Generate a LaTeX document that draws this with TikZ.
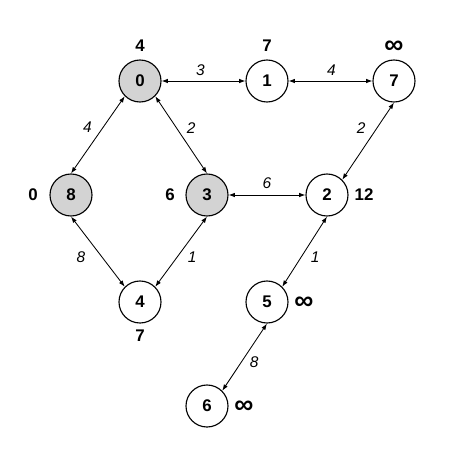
\documentclass[tikz,border=0pt]{standalone}
\usepackage{fontspec}
\setmainfont{Liberation Sans}
\usetikzlibrary{positioning,arrows.meta}

\definecolor{visited}{RGB}{211,211,211}

\tikzset{
  vertex/.style={draw,circle,line width=0.8pt,minimum size=1.05cm,inner sep=0pt,
    font=\bfseries\fontsize{12}{13}\selectfont},
  done/.style={vertex,fill=visited},
  dist/.style={inner sep=0pt,font=\bfseries\fontsize{12}{13}\selectfont},
  inf/.style={inner sep=0pt,font=\bfseries\fontsize{19}{20}\selectfont},
  wt/.style={inner sep=0pt,font=\itshape\fontsize{11}{12}\selectfont},
  link/.style={{Latex[length=4.5pt,width=3.2pt]}-{Latex[length=4.5pt,width=3.2pt]},line width=0.6pt}
}

\begin{document}
\begin{tikzpicture}[x=0.025cm,y=-0.025cm]
    \useasboundingbox (0,0) rectangle (474,474);

    % vertices
    \node[done]   (n0) at (140,81)  {0};
    \node[vertex] (n1) at (267,81)  {1};
    \node[vertex] (n7) at (394,81)  {7};
    \node[done]   (n8) at (71,195)  {8};
    \node[done]   (n3) at (207,195) {3};
    \node[vertex] (n2) at (327,195) {2};
    \node[vertex] (n4) at (140,302) {4};
    \node[vertex] (n5) at (267,302) {5};
    \node[vertex] (n6) at (207,406) {6};

    % distances
    \node[dist] (d0) at (140,46)  {4};
    \node[dist] (d1) at (267,46)  {7};
    \node[inf]  (d7) at (394,47)  {∞};
    \node[dist] (d8) at (33,195)  {0};
    \node[dist] (d3) at (170,195) {6};
    \node[dist] (d2) at (364,195) {12};
    \node[dist] (d4) at (140,336) {7};
    \node[inf]  (d5) at (304,303) {∞};
    \node[inf]  (d6) at (244,407) {∞};

    % edges
    \draw[link] (n0.east) -- node[wt,midway,shift={(-3,-11)}] {3} (n1.west);
    \draw[link] (n1.east) -- node[wt,midway,shift={(1,-11)}] {4} (n7.west);
    \draw[link] (n0.south west) -- node[wt,midway,shift={(-10.5,-7.5)}] {4} (n8.north);
    \draw[link] (n0.south east) -- node[wt,midway,shift={(10,-7)}] {2} (n3.north);
    \draw[link] (n7.south) -- node[wt,midway,shift={(-7,-13)}] {2} (n2.north east);
    \draw[link] (n3.east) -- node[wt,midway,shift={(0,-12)}] {6} (n2.west);
    \draw[link] (n8.south) -- node[wt,midway,shift={(-17,5.5)}] {8} (n4.north west);
    \draw[link] (n3.south) -- node[wt,midway,shift={(11,5.5)}] {1} (n4.north east);
    \draw[link] (n2.south) -- node[wt,midway,shift={(10.5,5.5)}] {1} (n5.north east);
    \draw[link] (n5.south) -- node[wt,midway,shift={(9.5,5)}] {8} (n6.north east);
\end{tikzpicture}
\end{document}
